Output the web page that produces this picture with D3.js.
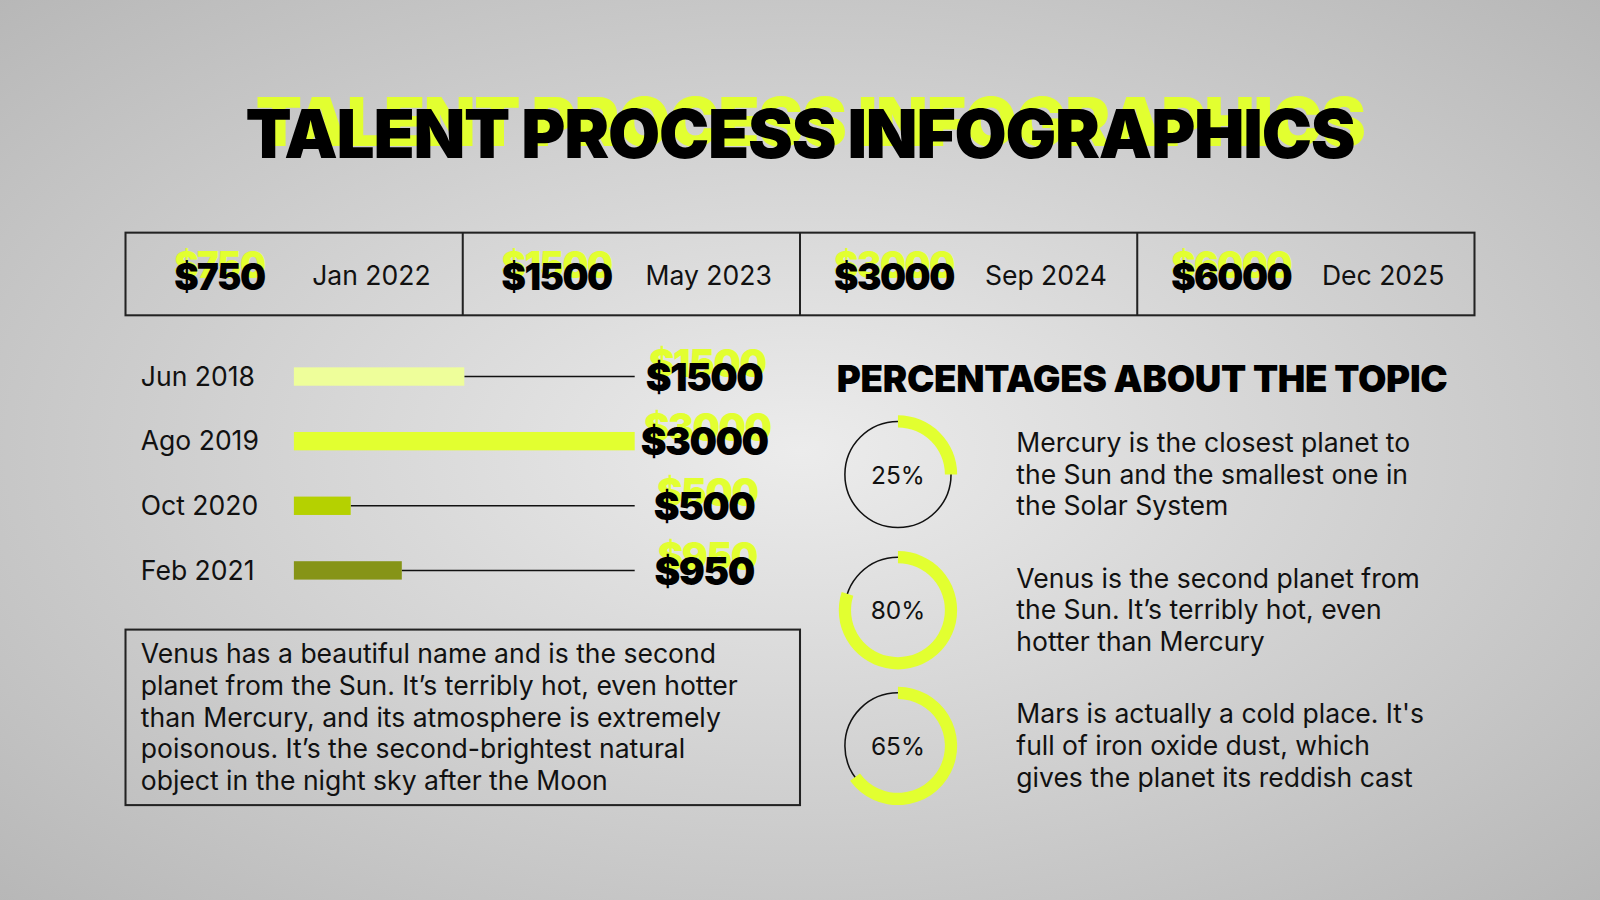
<!DOCTYPE html>
<html><head><meta charset="utf-8">
<script src="https://cdn.jsdelivr.net/npm/d3@7"></script>
<style>body{margin:0;overflow:hidden}</style>
</head><body>
<script>
var milestones = ["$750", "$1500", "$3000", "$6000"];
var milestoneDates = ["Jan 2022", "May 2023", "Sep 2024", "Dec 2025"];
var barLabels = ["Jun 2018", "Ago 2019", "Oct 2020", "Feb 2021"];
var barValues = [1500, 3000, 500, 950];
var barColors = ["#eefe9a", "#e2ff30", "#b5d100", "#869417"];
var percents = [25, 80, 65];
var percentTexts = [
  ["Mercury is the closest planet to", "the Sun and the smallest one in", "the Solar System"],
  ["Venus is the second planet from", "the Sun. It\u2019s terribly hot, even", "hotter than Mercury"],
  ["Mars is actually a cold place. It's", "full of iron oxide dust, which", "gives the planet its reddish cast"]
];
var boxText = ["Venus has a beautiful name and is the second",
  "planet from the Sun. It\u2019s terribly hot, even hotter",
  "than Mercury, and its atmosphere is extremely",
  "poisonous. It\u2019s the second-brightest natural",
  "object in the night sky after the Moon"];

var heavy = "Inter, 'DejaVu Sans', sans-serif";
var body = "Inter, 'Open Sans', sans-serif";
var yellow = "#e2ff30";

var svg = d3.select("body").append("svg")
  .attr("width", 1600).attr("height", 900)
  .attr("viewBox", "0 0 1568 882");

var grad = svg.append("defs").append("radialGradient").attr("id", "bg")
  .attr("cx", "50%").attr("cy", "50%").attr("r", "75%");
grad.append("stop").attr("offset", "0%").attr("stop-color", "#ececec");
grad.append("stop").attr("offset", "100%").attr("stop-color", "#b4b4b4");
svg.append("rect").attr("width", 1568).attr("height", 882).attr("fill", "url(#bg)");

function shadowText(x, y, txt, size, anchor, dx, dy, ls) {
  [[dx, dy, yellow], [0, 0, "#000"]].forEach(function(s) {
    svg.append("text").attr("x", x + s[0]).attr("y", y + s[1]).text(txt)
      .attr("font-family", heavy).attr("font-weight", 900).attr("font-size", size)
      .attr("letter-spacing", ls).attr("text-anchor", anchor).attr("fill", s[2]);
  });
}

// title
shadowText(784, 155, "TALENT PROCESS INFOGRAPHICS", 66, "middle", 10, -12, -1.2);

// milestone boxes
var mx = d3.scaleBand().domain(d3.range(4)).range([123, 1445]);
svg.append("rect").attr("x", 123).attr("y", 228).attr("width", 1322).attr("height", 81)
  .attr("fill", "none").attr("stroke", "#222").attr("stroke-width", 2);
milestones.forEach(function(m, i) {
  var x0 = mx(i);
  if (i > 0) svg.append("line").attr("x1", x0).attr("x2", x0).attr("y1", 228).attr("y2", 309)
    .attr("stroke", "#222").attr("stroke-width", 2);
  shadowText(x0 + 92, 284, m, 36, "middle", 0, -12, -1.5);
  svg.append("text").attr("x", x0 + 241).attr("y", 279).text(milestoneDates[i])
    .attr("font-family", body).attr("font-size", 26).attr("text-anchor", "middle").attr("fill", "#111");
});

// bars
var bx = d3.scaleLinear().domain([0, 3000]).range([288, 622]);
var by = d3.scalePoint().domain(barLabels).range([369, 559]);
barLabels.forEach(function(l, i) {
  var y = by(l);
  svg.append("text").attr("x", 138).attr("y", y + 9).text(l)
    .attr("font-family", body).attr("font-size", 26).attr("fill", "#111");
  svg.append("line").attr("x1", bx(barValues[i])).attr("x2", bx(3000)).attr("y1", y).attr("y2", y)
    .attr("stroke", "#111").attr("stroke-width", 1.5);
  svg.append("rect").attr("x", bx(0)).attr("y", y - 9).attr("width", bx(barValues[i]) - bx(0)).attr("height", 18)
    .attr("fill", barColors[i]);
  shadowText(690, y + 14, "$" + barValues[i], 38, "middle", 3, -14, -1.5);
});

// text box
svg.append("rect").attr("x", 123).attr("y", 617).attr("width", 661).attr("height", 172)
  .attr("fill", "none").attr("stroke", "#222").attr("stroke-width", 2);
boxText.forEach(function(t, i) {
  svg.append("text").attr("x", 138).attr("y", 650 + i * 31).text(t)
    .attr("font-family", body).attr("font-size", 26).attr("fill", "#111");
});

// percentages
svg.append("text").attr("x", 820).attr("y", 384).text("PERCENTAGES ABOUT THE TOPIC")
  .attr("font-family", heavy).attr("font-weight", 900).attr("font-size", 36)
  .attr("letter-spacing", -0.3).attr("fill", "#000");
var py = d3.scalePoint().domain(d3.range(3)).range([465, 731]);
var ang = d3.scaleLinear().domain([0, 100]).range([0, 2 * Math.PI]);
var arc = d3.arc().innerRadius(46).outerRadius(58).startAngle(0);
percents.forEach(function(p, i) {
  var g = svg.append("g").attr("transform", "translate(880," + py(i) + ")");
  g.append("circle").attr("r", 52).attr("fill", "none").attr("stroke", "#111").attr("stroke-width", 1.5);
  g.append("path").attr("d", arc({endAngle: ang(p)})).attr("fill", yellow);
  g.append("text").attr("y", 9).attr("text-anchor", "middle").text(p + "%")
    .attr("font-family", body).attr("font-size", 24).attr("fill", "#111");
  percentTexts[i].forEach(function(t, j) {
    svg.append("text").attr("x", 996).attr("y", py(i) - 22 + j * 31).text(t)
      .attr("font-family", body).attr("font-size", 26).attr("fill", "#111");
  });
});
</script>
</body></html>
